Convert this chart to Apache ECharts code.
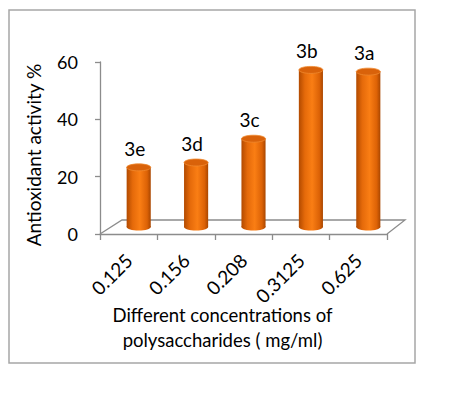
<!DOCTYPE html>
<html>
<head>
<meta charset="utf-8">
<script src="https://cdn.jsdelivr.net/npm/echarts@6/dist/echarts.min.js"></script>
<style>
html,body{margin:0;padding:0;background:#fff;}
#c{width:474px;height:415px;}
</style>
</head>
<body>
<div id="c"></div>
<script>
var categories = ['0.125', '0.156', '0.208', '0.3125', '0.625'];
var values = [20.8, 22.5, 30.8, 54.8, 54.2];
var barLabels = ['3e', '3d', '3c', '3b', '3a'];
var yTicks = [0, 20, 40, 60];
var yName = 'Antioxidant activity %';
var xName = 'Different concentrations of\npolysaccharides ( mg/ml)';

var FONT = 'Lato, "Open Sans", sans-serif';
var DX = 20, DY = 14;

var chart = echarts.init(document.getElementById('c'), null, {renderer: 'svg'});

function bodyGrad() {
  return new echarts.graphic.LinearGradient(0, 0, 1, 0, [
    {offset: 0, color: '#b24a00'},
    {offset: 0.25, color: '#e56a0a'},
    {offset: 0.55, color: '#fa7e14'},
    {offset: 0.85, color: '#dc6206'},
    {offset: 1, color: '#a94600'}
  ]);
}

chart.setOption({
  animation: false,
  backgroundColor: '#fff',
  graphic: [{
    type: 'rect',
    shape: {x: 9, y: 10, width: 406, height: 353},
    style: {fill: 'none', stroke: '#a6a6a6', lineWidth: 1.5},
    z: -10
  }],
  grid: {left: 100, right: 87, top: 62, bottom: 181, containLabel: false},
  xAxis: {
    type: 'category',
    data: categories,
    boundaryGap: true,
    axisLine: {show: true, lineStyle: {color: '#8c8c8c', width: 1.3}},
    axisTick: {show: true, length: 6, lineStyle: {color: '#8c8c8c', width: 1.3}},
    axisLabel: {
      rotate: 45, margin: 23, align: 'right', verticalAlign: 'middle',
      color: '#000', fontSize: 19, fontFamily: FONT, interval: 0
    },
    name: xName,
    nameLocation: 'middle',
    nameGap: 68,
    nameMoveOverlap: false,
    nameTextStyle: {color: '#000', fontSize: 18.5, fontFamily: FONT, lineHeight: 25, padding: [0, 42, 0, 0]}
  },
  yAxis: {
    type: 'value',
    min: yTicks[0], max: yTicks[yTicks.length - 1], interval: 20,
    axisLine: {show: true, lineStyle: {color: '#8c8c8c', width: 1.3}},
    axisTick: {show: true, length: 5, lineStyle: {color: '#8c8c8c', width: 1.3}},
    splitLine: {show: false},
    axisLabel: {margin: 22, color: '#000', fontSize: 18, fontFamily: FONT},
    name: yName,
    nameLocation: 'middle',
    nameGap: 57,
    nameMoveOverlap: false,
    nameTextStyle: {color: '#000', fontSize: 19, fontFamily: FONT, padding: [0, 14, 0, 0]}
  },
  series: [{
    type: 'custom',
    z: 1,
    data: [[0, 0]],
    renderItem: function (params, api) {
      var cs = params.coordSys;
      var x0 = cs.x, y0 = cs.y + cs.height, x1 = cs.x + cs.width;
      return {
        type: 'polyline',
        shape: {points: [[x0, y0], [x0 + DX + 2, y0 - DY], [x1 + DX - 2, y0 - DY], [x1, y0]]},
        style: {fill: 'none', stroke: '#8c8c8c', lineWidth: 1.3},
        silent: true
      };
    }
  }, {
    type: 'custom',
    z: 2,
    data: values.map(function (v, i) { return [i, v]; }),
    renderItem: function (params, api) {
      var idx = api.value(0);
      var top = api.coord([idx, api.value(1)]);
      var base = api.coord([idx, 0]);
      var w = api.size([1, 0])[0] * 0.42;
      var cx = top[0] + DX / 2;
      var by = base[1] - DY / 2;
      var ty = top[1] - DY / 2;
      var ry = 3.5;
      return {
        type: 'group',
        children: [{
          type: 'ellipse',
          shape: {cx: cx, cy: by, rx: w / 2, ry: ry},
          style: {fill: bodyGrad()}
        }, {
          type: 'rect',
          shape: {x: cx - w / 2, y: ty, width: w, height: by - ty},
          style: {fill: bodyGrad()}
        }, {
          type: 'ellipse',
          shape: {cx: cx, cy: ty, rx: w / 2, ry: ry},
          style: {fill: '#d9620a', stroke: '#f08a30', lineWidth: 0.8}
        }, {
          type: 'text',
          style: {
            text: barLabels[idx], x: cx - 4, y: ty - 19,
            align: 'center', verticalAlign: 'middle',
            fill: '#000', fontSize: 19, fontFamily: FONT
          }
        }]
      };
    }
  }]
});
</script>
</body>
</html>
